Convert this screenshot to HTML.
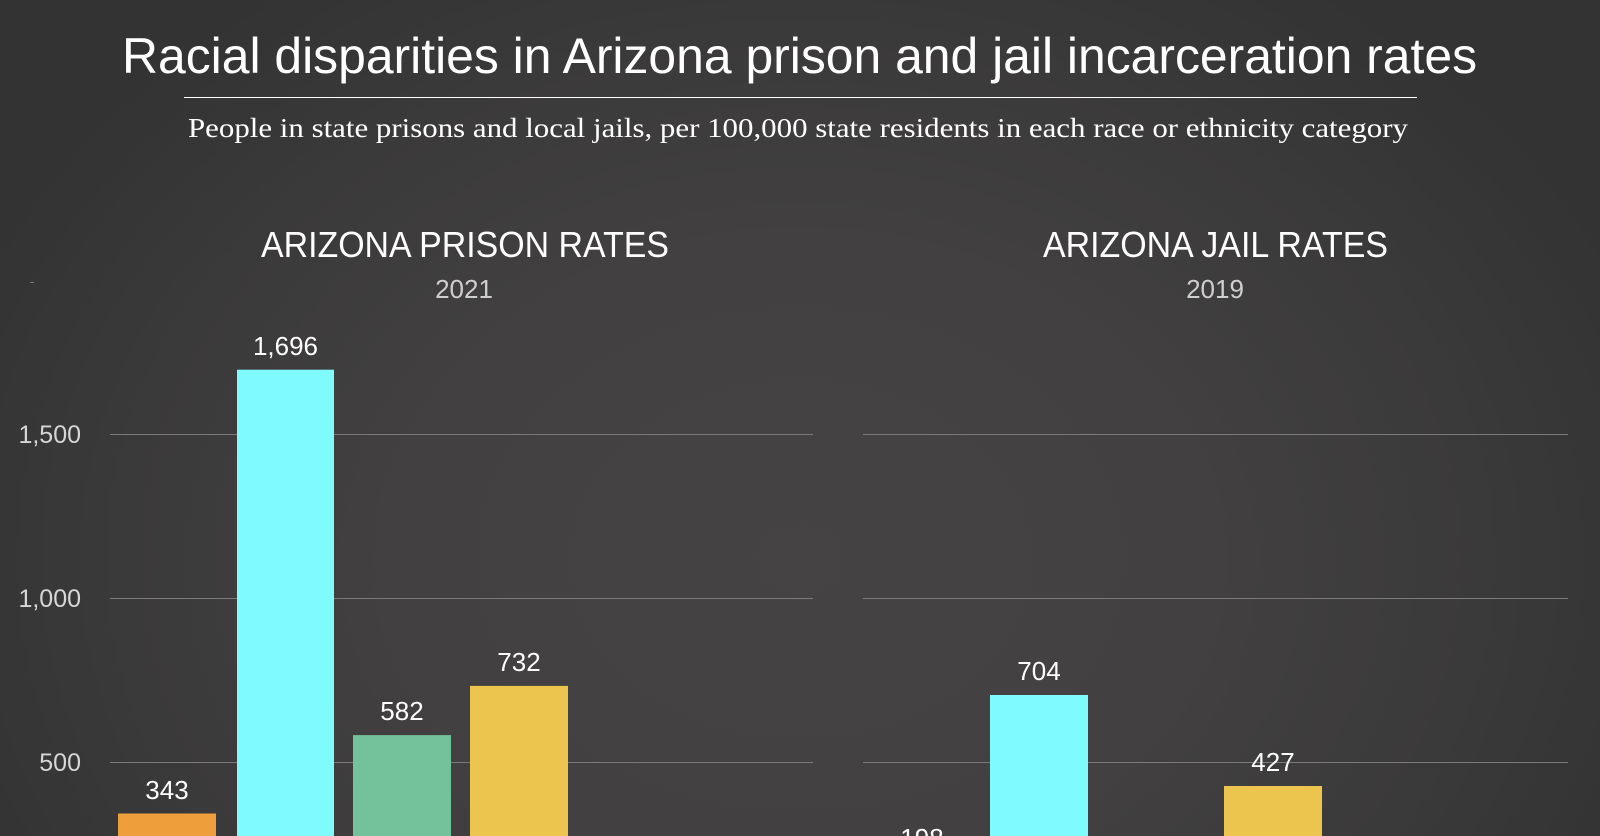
<!DOCTYPE html>
<html>
<head>
<meta charset="utf-8">
<style>
  html, body { margin: 0; padding: 0; }
  body {
    width: 1600px; height: 836px; overflow: hidden;
    background: radial-gradient(ellipse 900px 700px at 800px 560px, #454343 0%, #424040 45%, #3b3a3a 75%, #333333 100%);
  }
  svg { display: block; }
  .t { font-family: "Liberation Sans", sans-serif; }
  .s { font-family: "Liberation Serif", serif; }
</style>
</head>
<body>
<svg width="1600" height="836" viewBox="0 0 1600 836" xmlns="http://www.w3.org/2000/svg">
  <!-- Title -->
  <text class="t" x="122" y="73" font-size="50" fill="#ffffff" textLength="1355" lengthAdjust="spacingAndGlyphs">Racial disparities in Arizona prison and jail incarceration rates</text>
  <line x1="184" y1="97.5" x2="1417" y2="97.5" stroke="#ffffff" stroke-width="1"/>
  <text class="s" x="188" y="137" font-size="27" fill="#ffffff" textLength="1220" lengthAdjust="spacingAndGlyphs">People in state prisons and local jails, per 100,000 state residents in each race or ethnicity category</text>

  <!-- Section titles -->
  <text class="t" x="261" y="257" font-size="36" fill="#ffffff" textLength="408" lengthAdjust="spacingAndGlyphs">ARIZONA PRISON RATES</text>
  <text class="t" x="464" y="298" font-size="26" fill="#cfcfcf" text-anchor="middle">2021</text>
  <text class="t" x="1043" y="257" font-size="36" fill="#ffffff" textLength="345" lengthAdjust="spacingAndGlyphs">ARIZONA JAIL RATES</text>
  <text class="t" x="1215" y="298" font-size="26" fill="#cfcfcf" text-anchor="middle">2019</text>

  <!-- small tick -->
  <line x1="30" y1="282.5" x2="34" y2="282.5" stroke="#777" stroke-width="1"/>

  <!-- Gridlines -->
  <g stroke="#7a7a7a" stroke-width="1">
    <line x1="110" y1="434.5" x2="813" y2="434.5"/>
    <line x1="110" y1="598.5" x2="813" y2="598.5"/>
    <line x1="110" y1="762.5" x2="813" y2="762.5"/>
    <line x1="863" y1="434.5" x2="1568" y2="434.5"/>
    <line x1="863" y1="598.5" x2="1568" y2="598.5"/>
    <line x1="863" y1="762.5" x2="1568" y2="762.5"/>
  </g>

  <!-- Y labels -->
  <g class="t" font-size="25" fill="#d6d6d6" text-anchor="end">
    <text x="81" y="443">1,500</text>
    <text x="81" y="607">1,000</text>
    <text x="81" y="771">500</text>
  </g>

  <!-- Prison bars -->
  <rect x="118" y="813.5" width="98" height="40" fill="#ee9e3a"/>
  <rect x="237" y="369.7" width="97" height="480" fill="#80fbfd"/>
  <rect x="353" y="735.1" width="98" height="120" fill="#74c29c"/>
  <rect x="470" y="685.9" width="98" height="160" fill="#ecc54e"/>

  <g class="t" font-size="26" fill="#ffffff" text-anchor="middle">
    <text x="167" y="799">343</text>
    <text x="285.5" y="355">1,696</text>
    <text x="402" y="720">582</text>
    <text x="519" y="671">732</text>
  </g>

  <!-- Jail bars -->
  <rect x="990" y="695" width="98" height="160" fill="#80fbfd"/>
  <rect x="1224" y="786" width="98" height="60" fill="#ecc54e"/>

  <g class="t" font-size="26" fill="#ffffff" text-anchor="middle">
    <text x="922" y="847">198</text>
    <text x="1039" y="680">704</text>
    <text x="1273" y="771">427</text>
  </g>
</svg>
</body>
</html>
